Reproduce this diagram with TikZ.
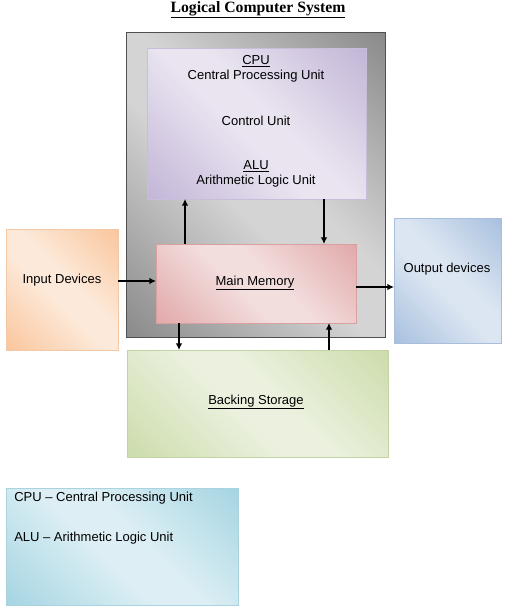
\documentclass[tikz,border=0pt]{standalone}
\usepackage{fontspec}
\setmainfont{Liberation Sans}
\newfontfamily\titlefont{Liberation Serif}
\usetikzlibrary{arrows.meta,shadows}

\definecolor{grayD}{HTML}{666666}\definecolor{grayL}{HTML}{D4D4D4}\definecolor{grayB}{HTML}{505050}
\definecolor{cpuD}{HTML}{B09FCB}\definecolor{cpuL}{HTML}{E9E4F0}\definecolor{cpuB}{HTML}{C9BEDA}
\definecolor{memD}{HTML}{D98F90}\definecolor{memL}{HTML}{F3DEDE}\definecolor{memB}{HTML}{D9A0A0}
\definecolor{inpD}{HTML}{F8B580}\definecolor{inpL}{HTML}{FDE9D9}\definecolor{inpB}{HTML}{F5C8A5}
\definecolor{outD}{HTML}{8EAED5}\definecolor{outL}{HTML}{DCE6F2}\definecolor{outB}{HTML}{A9BEDB}
\definecolor{bakD}{HTML}{BDD293}\definecolor{bakL}{HTML}{EBF1DE}\definecolor{bakB}{HTML}{C3D3A4}
\definecolor{legD}{HTML}{8AC8DA}\definecolor{legL}{HTML}{DDEFF4}\definecolor{legB}{HTML}{A8D3DF}

\pgfdeclarehorizontalshading{grayshade}{100bp}{color(0bp)=(grayD); color(45bp)=(grayL); color(55bp)=(grayL); color(100bp)=(grayD)}
\pgfdeclarehorizontalshading{cpushade}{100bp}{color(0bp)=(cpuD); color(45bp)=(cpuL); color(55bp)=(cpuL); color(100bp)=(cpuD)}
\pgfdeclarehorizontalshading{memshade}{100bp}{color(0bp)=(memD); color(45bp)=(memL); color(55bp)=(memL); color(100bp)=(memD)}
\pgfdeclarehorizontalshading{inpshade}{100bp}{color(0bp)=(inpD); color(45bp)=(inpL); color(55bp)=(inpL); color(100bp)=(inpD)}
\pgfdeclarehorizontalshading{outshade}{100bp}{color(0bp)=(outD); color(45bp)=(outL); color(55bp)=(outL); color(100bp)=(outD)}
\pgfdeclarehorizontalshading{bakshade}{100bp}{color(0bp)=(bakD); color(45bp)=(bakL); color(55bp)=(bakL); color(100bp)=(bakD)}
\pgfdeclarehorizontalshading{legshade}{100bp}{color(0bp)=(legD); color(45bp)=(legL); color(55bp)=(legL); color(100bp)=(legD)}

\tikzset{
  box/.style={draw, inner sep=0pt, outer sep=0pt, line width=0.4pt, shading angle=45},
  softshadow/.style={drop shadow={shadow xshift=1pt, shadow yshift=-1pt, opacity=0.3, fill=black}},
  link/.style={-{Latex[length=5pt,width=5pt]}, line width=1.1pt},
  lbl/.style={align=center, inner sep=0pt}
}

\begin{document}
\begin{tikzpicture}[x=0.75pt,y=-0.75pt,font=\fontsize{9.75}{11.25}\selectfont]
	\useasboundingbox (0,0) rectangle (507,615);

	\node[font=\titlefont\bfseries\fontsize{11.8}{13}\selectfont] (title) at (258,10) {\underline{Logical Computer System}};

	\node[box, shading=grayshade, draw=grayB, minimum width=194.25pt, minimum height=228.75pt] (sys) at (255.5,184.5) {};
	\node[box, softshadow, shading=cpushade, draw=cpuB, minimum width=164.25pt, minimum height=113.25pt] (cpu) at (256.5,123.5) {};
	\node[box, softshadow, shading=memshade, draw=memB, minimum width=150pt, minimum height=59.25pt] (mem) at (256,283.5) {};
	\node[box, softshadow, shading=inpshade, draw=inpB, minimum width=84pt, minimum height=90.75pt] (inp) at (62,289.5) {};
	\node[box, softshadow, shading=outshade, draw=outB, minimum width=80.25pt, minimum height=93.75pt] (out) at (447.5,280.5) {};
	\node[box, softshadow, shading=bakshade, draw=bakB, minimum width=195.75pt, minimum height=80.25pt] (bak) at (257.5,403.5) {};
	\node[box, softshadow, shading=legshade, draw=legB, minimum width=174pt, minimum height=87.75pt] (leg) at (122,546.5) {};

	\node[lbl] (cpuName) at (256,68.5) {\underline{CPU}\\Central Processing Unit};
	\node[lbl] (ctrl) at (256,121) {Control Unit};
	\node[lbl] (alu) at (256,174) {\underline{ALU}\\Arithmetic Logic Unit};
	\node[lbl] (memName) at (255,283) {\underline{Main Memory}};
	\node[lbl] (inpName) at (62,280) {Input Devices};
	\node[lbl] (outName) at (447,269) {Output devices};
	\node[lbl] (bakName) at (256,402) {\underline{Backing Storage}};
	\node[lbl, anchor=west] (legCpu) at (14,498) {CPU – Central Processing Unit};
	\node[lbl, anchor=west] (legAlu) at (14,538) {ALU – Arithmetic Logic Unit};

	\draw[link] (mem.north -| 185,0) -- (cpu.south -| 185,0);
	\draw[link] (cpu.south -| 324,0) -- (mem.north -| 324,0);
	\draw[link] (inp.east |- 0,281) -- (mem.west |- 0,281);
	\draw[link] (mem.east |- 0,287) -- (out.west |- 0,287);
	\draw[link] (mem.south -| 179,0) -- (bak.north -| 179,0);
	\draw[link] (bak.north -| 329,0) -- (mem.south -| 329,0);
\end{tikzpicture}
\end{document}
